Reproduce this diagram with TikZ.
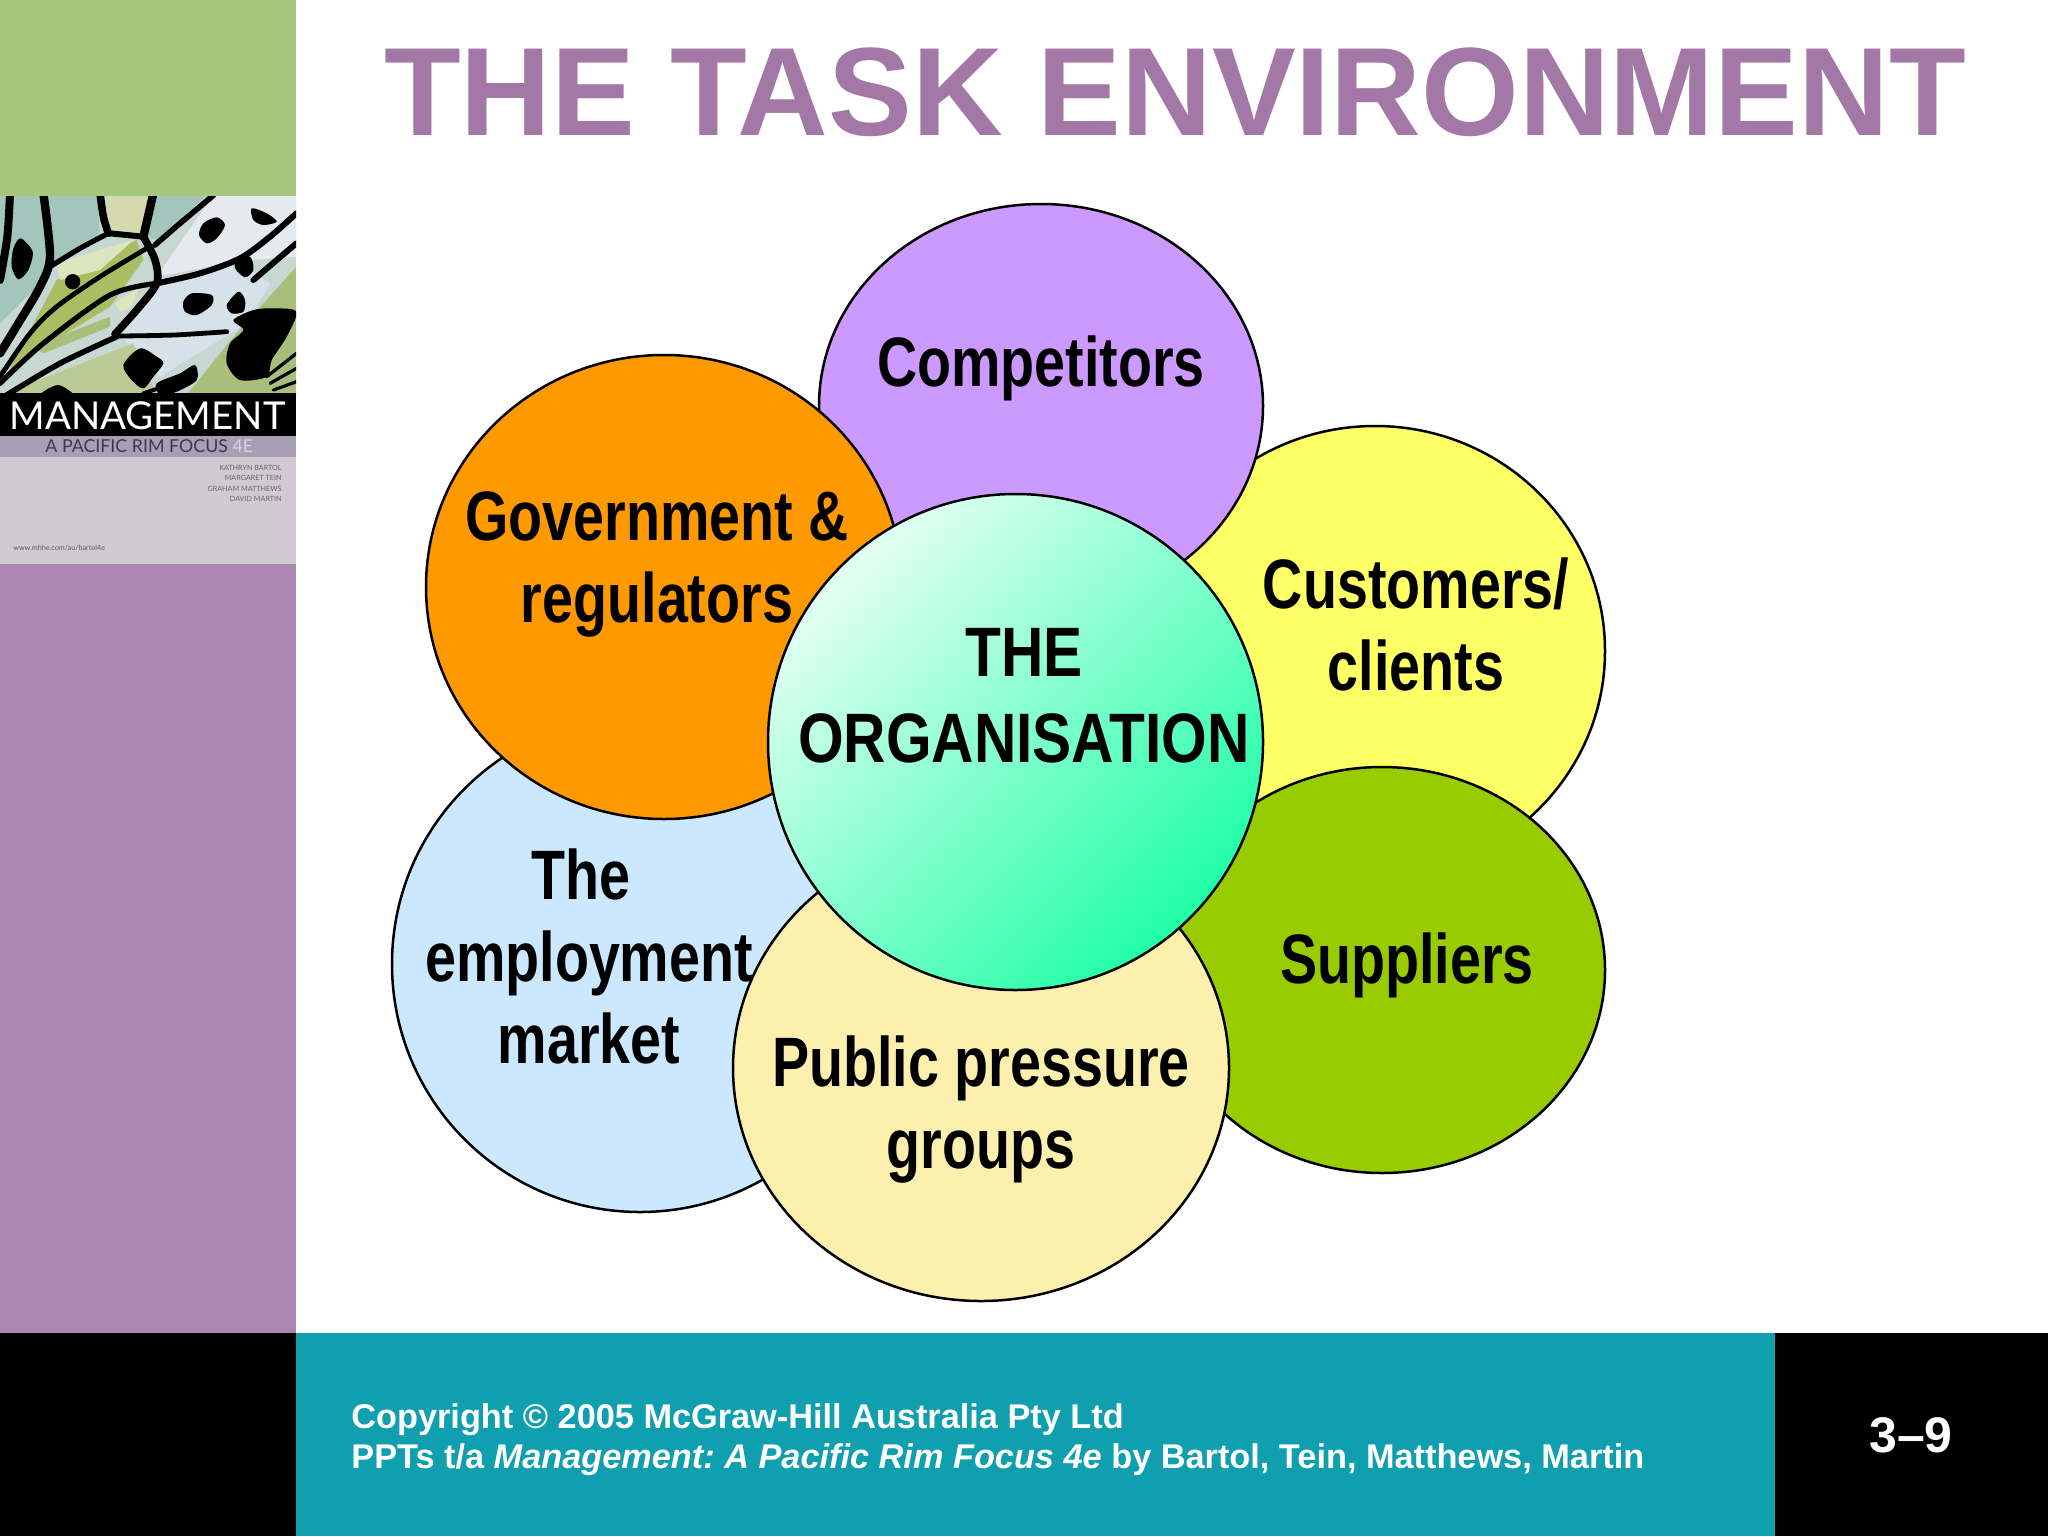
\documentclass[tikz,border=0pt]{standalone}
\usepackage{fontspec}
\usetikzlibrary{shapes.geometric}
\setmainfont{Liberation Sans}
\newfontfamily\lab[FakeStretch=0.795]{Liberation Sans}
\newfontfamily\laborg[FakeStretch=0.838]{Liberation Sans}
\newfontfamily\cover{Lato}
\definecolor{sideGreen}{HTML}{A6C67C}
\definecolor{sidePurple}{HTML}{AA87B0}
\definecolor{teal2}{HTML}{109FAE}
\definecolor{titleP}{HTML}{A377A6}
\definecolor{w1}{HTML}{C7D8D2}
\definecolor{w2}{HTML}{A3C6BC}
\definecolor{w3}{HTML}{D5D9AE}
\definecolor{w4}{HTML}{A9BD62}
\definecolor{w5}{HTML}{E6EAF0}
\definecolor{w6}{HTML}{D5E2EA}
\definecolor{w7}{HTML}{B9CA94}
\definecolor{w8}{HTML}{A9BE7B}
\definecolor{w9}{HTML}{DDE5BE}
\definecolor{bandL}{HTML}{A99FB5}
\definecolor{bandG}{HTML}{D0CBD1}
\definecolor{focusC}{HTML}{3E3550}
\definecolor{edC}{HTML}{D8D2DC}
\definecolor{pCust}{HTML}{FFFF66}
\definecolor{pSupp}{HTML}{99CC00}
\definecolor{pComp}{HTML}{CC99FF}
\definecolor{pEmp}{HTML}{CCE8FF}
\definecolor{pGov}{HTML}{FF9900}
\definecolor{pPub}{HTML}{FDF0AE}
\definecolor{orgA}{HTML}{E4FFF4}
\definecolor{orgB}{HTML}{20FFA6}
\tikzset{
  blob/.style={ellipse,draw=black,line width=1.25pt,inner sep=0pt,outer sep=0pt},
  lbl/.style={align=center,inner sep=0pt,font=\fontsize{35}{41}\selectfont\lab\bfseries},
  vein/.style={draw=black,line cap=round,line join=round},
  foot/.style={anchor=west,inner sep=0pt,text=white,font=\fontsize{17.15}{20}\selectfont\bfseries\frenchspacing},
  auth/.style={anchor=east,inner sep=0pt,text=black!60,font=\fontsize{3.6}{4}\selectfont\cover}
}
\begin{document}
\begin{tikzpicture}[x=0.5pt,y=-0.5pt]
\useasboundingbox (0,0) rectangle (2048,1536);
\fill[white] (0,0) rectangle (2048,1536);
% side bar
\fill[sideGreen] (0,0) rectangle (296,196);
\fill[sidePurple] (0,563) rectangle (296,1333);
% book cover
\begin{scope}
\clip (0,196) rectangle (296,394);
\begin{scope}[shift={(0,180)},x=0.1667pt,y=-0.1667pt]
\fill[w1] (0,40) rectangle (889,645);
\fill[w2] (0,40) -- (290,40) -- (300,170) -- (150,250) -- (100,330) -- (0,430) -- cycle;
\fill[w3] (320,46) -- (450,46) -- (420,160) -- (330,150) -- cycle;
\fill[w2] (450,46) -- (620,46) -- (470,180) -- (440,170) -- cycle;
\fill[w4] (0,620) -- (170,300) -- (410,180) -- (430,240) -- (330,380) -- (100,520) -- cycle;
\fill[w9] (170,250) -- (400,180) -- (300,270) -- (180,300) -- cycle;
\fill[w5] (470,290) -- (640,46) -- (889,46) -- (889,230) -- (740,240) -- cycle;
\fill[w6] (350,460) -- (480,320) -- (720,250) -- (810,310) -- (740,430) -- (480,590) -- (420,520) -- cycle;
\fill[w7] (0,645) -- (400,490) -- (470,645) -- cycle;
\fill[w8] (560,645) -- (700,470) -- (889,260) -- (889,645) -- cycle;
\fill[w9] (345,370) -- (420,320) -- (390,385) -- (360,395) -- cycle;
\fill[w8] (100,500) -- (330,410) -- (330,440) -- (130,520) -- cycle;
\draw[vein,line width=4pt] plot[smooth] coordinates {(30,40) (22,170) (0,300)};
\draw[vein,line width=4.2pt] plot[smooth] coordinates {(130,40) (150,230) (120,320) (55,430) (0,520)};
\draw[vein,line width=3.8pt] plot[smooth] coordinates {(300,40) (310,110) (325,160)};
\draw[vein,line width=2.6pt] plot[smooth] coordinates {(325,160) (240,205) (150,260)};
\draw[vein,line width=4.2pt] plot[smooth] coordinates {(460,40) (430,170)};
\draw[vein,line width=3pt] plot[smooth] coordinates {(430,170) (330,160)};
\draw[vein,line width=2.8pt] plot[smooth] coordinates {(640,46) (540,130) (465,195)};
\draw[vein,line width=3.8pt] plot[smooth] coordinates {(430,170) (465,240) (470,310) (410,390) (345,462)};
\draw[vein,line width=2.4pt] plot[smooth] coordinates {(0,590) (90,460) (170,380) (300,290) (440,205)};
\draw[vein,line width=2.6pt] plot[smooth] coordinates {(0,610) (130,490) (330,345) (470,310)};
\draw[vein,line width=2.8pt] plot[smooth] coordinates {(20,645) (180,550) (350,470)};
\draw[vein,line width=2.4pt] plot[smooth] coordinates {(350,468) (520,465) (680,455)};
\draw[vein,line width=3pt] plot[smooth] coordinates {(470,310) (600,280) (720,235) (810,170) (889,100)};
\draw[vein,line width=3pt] plot[smooth] coordinates {(760,300) (830,240) (889,190)};
\draw[vein,line width=1.6pt] (800,590) -- (889,520);
\draw[vein,line width=1.6pt] (810,610) -- (889,565);
\draw[vein,line width=1.6pt] (820,630) -- (889,605);
\draw[vein,line width=2pt] (430,640) -- (520,610);
\fill plot[smooth cycle] coordinates {(62,175) (98,215) (85,270) (55,298) (35,260) (40,205)};
\fill (218,305) circle [radius=23];
\fill plot[smooth cycle] coordinates {(650,112) (675,135) (650,175) (620,190) (597,165) (610,130)};
\fill plot[smooth cycle] coordinates {(575,340) (635,345) (635,375) (590,405) (555,395) (550,365)};
\fill plot[smooth cycle] coordinates {(755,85) (800,100) (830,125) (790,135) (760,120)};
\fill plot[smooth cycle] coordinates {(710,240) (750,230) (760,270) (735,292) (705,265)};
\fill plot[smooth cycle] coordinates {(715,335) (735,360) (730,395) (695,400) (680,375)};
\fill plot[smooth cycle] coordinates {(700,420) (760,390) (820,385) (889,395) (860,470) (815,540) (800,590) (720,600) (680,550) (690,490) (730,450)};
\fill plot[smooth cycle] coordinates {(370,555) (420,505) (470,530) (490,550) (460,590) (430,625) (395,600)};
\fill plot[smooth cycle] coordinates {(470,610) (540,580) (585,555) (590,600) (530,635) (480,645)};
\fill plot[smooth cycle] coordinates {(120,645) (175,615) (225,650) (170,665)};
\end{scope}
\end{scope}
\fill[black] (0,393) rectangle (296,436);
\fill[bandL] (0,436) rectangle (296,457);
\fill[bandG] (0,457) rectangle (296,564);
\node[anchor=west,inner sep=0pt,text=white,font=\fontsize{19.2}{20}\selectfont\cover] (mg) at (9,416) {MANAGEMENT};
\node[anchor=west,inner sep=0pt,text=focusC,font=\fontsize{8.9}{10}\selectfont\cover] (ap) at (45,446) {A PACIFIC RIM FOCUS \textcolor{edC}{4E}};
\node[auth] (a1) at (282,468) {KATHRYN BARTOL};
\node[auth] (a2) at (282,478) {MARGARET TEIN};
\node[auth] (a3) at (282,489) {GRAHAM MATTHEWS};
\node[auth] (a4) at (282,499) {DAVID MARTIN};
\node[anchor=west,inner sep=0pt,text=black!65,font=\fontsize{3.6}{4}\selectfont\cover] (url) at (13,548) {www.mhhe.com/au/bartol4e};
% title
\node[inner sep=0pt,text=titleP,font=\fontsize{62.8}{70}\selectfont\bfseries] (title) at (1175,92) {THE TASK ENVIRONMENT};
% petals
\node[blob,fill=pCust,minimum width=230pt,minimum height=225pt] (cust) at (1375,651) {};
\node[blob,fill=pSupp,minimum width=223pt,minimum height=203pt] (supp) at (1382,970) {};
\node[blob,fill=pComp,minimum width=222pt,minimum height=202pt] (comp) at (1041,406) {};
\node[blob,fill=pEmp,minimum width=248pt,minimum height=248pt] (emp) at (640,964) {};
\node[blob,fill=pGov,minimum width=238pt,minimum height=232pt] (gov) at (664,587) {};
\node[blob,fill=pPub,minimum width=248pt,minimum height=233pt] (pub) at (981,1068) {};
\node[ellipse,draw=black,line width=1.25pt,inner sep=0pt,outer sep=0pt,minimum width=247.5pt,minimum height=248pt,
  shading=axis,top color=orgA,bottom color=orgB,shading angle=45] (org) at (1015.5,742) {};
% labels
\node[lbl] (lcomp) at (1041,368) {Competitors};
\node[lbl] (lgov) at (657,564) {Government \&\\regulators};
\node[lbl] (lcust) at (1416,624) {Customers/\\clients};
\node[lbl] (lsupp) at (1407,965) {Suppliers};
\node[lbl] (lemp) at (589,956) {The\hspace*{8pt}\\employment\\market};
\node[lbl] (lpub) at (981,1110) {Public pressure\\groups};
\node[lbl,font=\fontsize{35}{43}\selectfont\laborg\bfseries] (lorg) at (1024,696) {THE\\ORGANISATION};
% footer
\fill[black] (0,1333) rectangle (2048,1536);
\fill[teal2] (296,1333) rectangle (1775,1536);
\node[foot] (f1) at (351,1420) {Copyright © 2005 McGraw-Hill Australia Pty Ltd};
\node[foot] (f2) at (351,1460) {PPTs t/a \textit{Management: A Pacific Rim Focus 4e} by Bartol, Tein, Matthews, Martin};
\node[inner sep=0pt,text=white,font=\fontsize{25}{28}\selectfont\bfseries] (pg) at (1911,1435) {3–9};
\end{tikzpicture}
\end{document}
